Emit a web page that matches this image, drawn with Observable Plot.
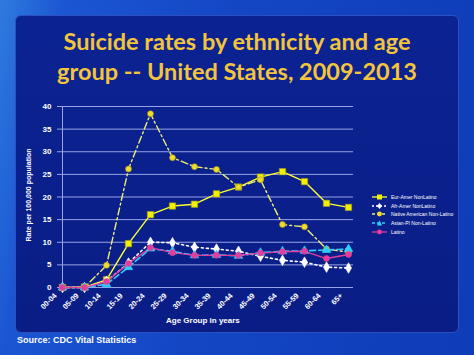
<!DOCTYPE html>
<html><head><meta charset="utf-8">
<script src="https://cdn.jsdelivr.net/npm/d3@7"></script>
<script src="https://cdn.jsdelivr.net/npm/@observablehq/plot@0.6"></script>
<style>
html,body{margin:0;padding:0;}
body{width:474px;height:355px;overflow:hidden;position:relative;
 background:linear-gradient(100deg,#2f7be0 0%,#1b56d2 12%,#1446c4 45%,#0f3cb8 100%);
 font-family:"Liberation Sans",Arial,sans-serif;}
#panel{position:absolute;left:15px;top:15px;width:444px;height:318px;border-radius:6px;
 background:linear-gradient(180deg,#0b2392 0%,#0a1d86 100%);border:1px solid #2d4fc0;box-sizing:border-box;}
#title{position:absolute;left:0;width:474px;top:26px;text-align:center;color:#f4c43a;
 font-family:Lato,sans-serif;font-weight:bold;font-size:23.5px;line-height:30px;}
#chart{position:absolute;left:0;top:0;}
#ylab{position:absolute;left:28px;top:195px;transform:translate(-50%,-50%) rotate(-90deg);
 color:#fff;font-weight:bold;font-size:7px;white-space:nowrap;}
#xlab{position:absolute;left:166px;top:316px;color:#fff;font-weight:bold;font-size:8px;white-space:nowrap;}
#source{position:absolute;left:17px;top:335px;color:#fff;font-weight:bold;font-size:9px;white-space:nowrap;}
#legend{position:absolute;left:372px;top:193px;color:#fff;font-size:5px;}
#legend div{height:8.6px;display:flex;align-items:center;white-space:nowrap;}
#legend svg{margin-right:4px;}
</style></head>
<body>
<div id="panel"></div>
<div id="title">Suicide rates by ethnicity and age<br>group -- United States, 2009-2013</div>
<div id="chart"></div>
<div id="ylab">Rate per 100,000 population</div>
<div id="xlab">Age Group in years</div>
<div id="source">Source: CDC Vital Statistics</div>
<div id="legend"></div>
<script>
const ageGroups = ["00-04","05-09","10-14","15-19","20-24","25-29","30-34","35-39","40-44","45-49","50-54","55-59","60-64","65+"];
const seriesNames = ["Eur-Amer NonLatino","Afr-Amer NonLatino","Native American Non-Latino","Asian-PI Non-Latino","Latino"];
const eurAmer   = [0, 0.1, 1.7, 9.7, 16.1, 18.0, 18.4, 20.7, 22.2, 24.4, 25.6, 23.4, 18.6, 17.7];
const afrAmer   = [0, 0, 1.4, 5.4, 10.0, 9.9, 8.9, 8.5, 8.0, 6.9, 6.0, 5.6, 4.5, 4.3];
const nativeAm  = [0, 0, 4.9, 26.2, 38.4, 28.7, 26.7, 26.1, 22.2, 23.8, 13.9, 13.4, 8.5, 7.8];
const asianPI   = [0, 0, 0.7, 4.5, 8.6, 8.0, 7.1, 7.2, 7.0, 7.7, 8.0, 8.1, 8.3, 8.5];
const latino    = [0, 0, 1.3, 5.3, 8.8, 7.7, 7.1, 7.1, 7.1, 7.6, 7.9, 8.0, 6.4, 7.3];
const yTicks = [0,5,10,15,20,25,30,35,40];

const values = [eurAmer, afrAmer, nativeAm, asianPI, latino];
const styles = [
  {stroke:"#ffff33", dash:null, width:1.4, symbol:"square", fill:"#f2f000", dotStroke:"#9a9a20", r:3.6},
  {stroke:"#ffffff", dash:"2,3", width:1.6, symbol:"diamond", fill:"#ffffff", dotStroke:"#ffffff", r:3.2},
  {stroke:"#eeee77", dash:"7,3,2,3", width:1.4, symbol:"circle", fill:"#f2dc2a", dotStroke:"#a09020", r:3},
  {stroke:"#33ccff", dash:"6,3", width:1.6, symbol:"triangle", fill:"#33ccff", dotStroke:"#33ccff", r:3.2},
  {stroke:"#e23c9c", dash:null, width:1.4, symbol:"circle", fill:"#e23c9c", dotStroke:"#e23c9c", r:3}
];
const data = seriesNames.map((name,i)=>ageGroups.map((age,j)=>({series:name, age, rate:values[i][j]})));

const marks = [
  Plot.ruleY(yTicks, {stroke:"#98a4e6", strokeWidth:1}),
  Plot.ruleX([ageGroups[0]], {stroke:"#98a4e6", strokeWidth:1}),
  Plot.axisY({ticks:yTicks, tickSize:0, tickPadding:6, fontSize:8, fontWeight:"bold", label:null, fill:"#fff"}),
  Plot.axisX({tickRotate:-45, tickSize:0, tickPadding:7, dx:-7, fontSize:7.5, fontWeight:"bold", label:null, fill:"#fff"})
];
data.forEach((d,i)=>{
  const s = styles[i];
  marks.push(Plot.line(d, {x:"age", y:"rate", stroke:s.stroke, strokeWidth:s.width, strokeDasharray:s.dash}));
});
data.forEach((d,i)=>{
  const s = styles[i];
  marks.push(Plot.dot(d, {x:"age", y:"rate", symbol:()=>s.symbol, fill:s.fill, stroke:s.dotStroke, strokeWidth:0.6, r:s.r}));
});

const chart = Plot.plot({
  width:474, height:355,
  marginLeft:57, marginRight:121, marginTop:106, marginBottom:68,
  style:{background:"transparent", color:"#fff", fontFamily:"Liberation Sans, Arial, sans-serif", overflow:"visible"},
  x:{type:"point", domain:ageGroups, padding:0},
  y:{domain:[0,40]},
  symbol:{type:"identity"},
  marks
});
document.getElementById("chart").appendChild(chart);

const leg = document.getElementById("legend");
seriesNames.forEach((name,i)=>{
  const s = styles[i];
  const row = document.createElement("div");
  const sym = {square:'<rect x="5" y="1.5" width="5" height="5"',diamond:'<path d="M7.5 1 L10 4 L7.5 7 L5 4Z"',circle:'<circle cx="7.5" cy="4" r="2.4"',triangle:'<path d="M7.5 1.2 L10 6.5 L5 6.5Z"'}[s.symbol];
  row.innerHTML = `<svg width="15" height="8"><line x1="0" x2="15" y1="4" y2="4" stroke="${s.stroke}" stroke-width="1.3" ${s.dash?`stroke-dasharray="${s.dash==='2,3'?'2,2':'3,2'}"`:''}/>${sym} fill="${s.fill}"/></svg><span>${name}</span>`;
  leg.appendChild(row);
});
</script>
</body></html>
